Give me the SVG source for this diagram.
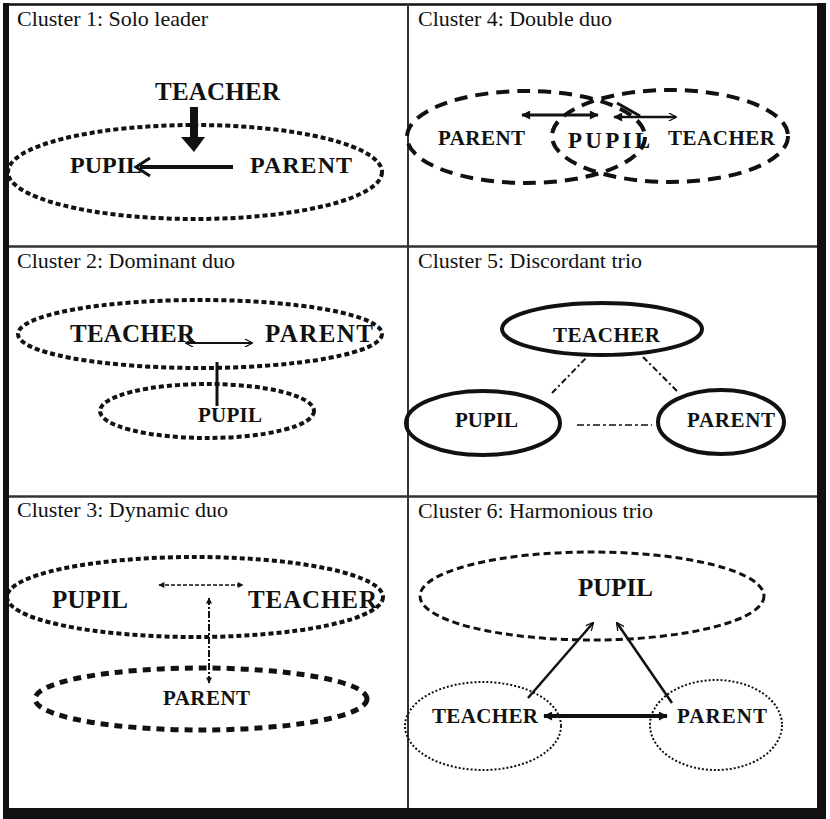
<svg xmlns="http://www.w3.org/2000/svg" width="830" height="819" viewBox="0 0 830 819">
<style>
.title{font-family:"Liberation Serif","Times New Roman",serif;font-size:22px;fill:#111}
.lbl{font-family:"Liberation Serif","Times New Roman",serif;font-weight:bold;fill:#111}
.dot{fill:none;stroke:#111;stroke-width:4;stroke-dasharray:5 3}
.dash{fill:none;stroke:#111;stroke-width:4;stroke-dasharray:13 8}
.dash3{fill:none;stroke:#111;stroke-width:5;stroke-dasharray:8 6}
.dash6{fill:none;stroke:#111;stroke-width:3;stroke-dasharray:7 4}
.fine{fill:none;stroke:#111;stroke-width:2;stroke-dasharray:2 2}
.solid{fill:none;stroke:#111;stroke-width:4}
.ln{fill:none;stroke:#111}
</style>
<defs>
<marker id="ah" viewBox="0 0 10 10" refX="9" refY="5" markerWidth="10" markerHeight="9" markerUnits="userSpaceOnUse" orient="auto-start-reverse"><path d="M0,0 L10,5 L0,10 Z" fill="#111"/></marker>
<marker id="ahs" viewBox="0 0 10 10" refX="9" refY="5" markerWidth="7" markerHeight="6" markerUnits="userSpaceOnUse" orient="auto-start-reverse"><path d="M0,0 L10,5 L0,10 Z" fill="#111"/></marker>
<marker id="aho" viewBox="0 0 10 10" refX="9" refY="5" markerWidth="9" markerHeight="8" markerUnits="userSpaceOnUse" orient="auto-start-reverse"><path d="M0,0 L10,5 L0,10" fill="none" stroke="#111" stroke-width="1.6"/></marker>
</defs>
<rect x="0" y="0" width="830" height="819" fill="#fff"/>
<g id="frame">
<line x1="3" y1="4.5" x2="826" y2="4.5" stroke="#111" stroke-width="2.5"/>
<rect x="3" y="3" width="6" height="816" fill="#111"/>
<rect x="817" y="3" width="9" height="816" fill="#111"/>
<rect x="3" y="808" width="823" height="11" fill="#111"/>
<line x1="408" y1="4" x2="408" y2="808" stroke="#333" stroke-width="2"/>
<line x1="9" y1="246.5" x2="817" y2="246.5" stroke="#333" stroke-width="2.5"/>
<line x1="9" y1="496.5" x2="817" y2="496.5" stroke="#333" stroke-width="2.5"/>
</g>
<g id="titles">
<text class="title" x="17" y="26" textLength="191">Cluster 1: Solo leader</text>
<text class="title" x="418" y="26" textLength="194">Cluster 4: Double duo</text>
<text class="title" x="17" y="268" textLength="218">Cluster 2: Dominant duo</text>
<text class="title" x="418" y="268" textLength="224">Cluster 5: Discordant trio</text>
<text class="title" x="17" y="517" textLength="211">Cluster 3: Dynamic duo</text>
<text class="title" x="418" y="518" textLength="235">Cluster 6: Harmonious trio</text>
</g>
<!-- Cluster 1 -->
<g id="c1-teacher"><text class="lbl" x="155" y="100" font-size="25" textLength="125">TEACHER</text></g>
<g id="c1-group"><ellipse class="dot" cx="195" cy="172" rx="187" ry="47"/></g>
<g id="c1-pupil"><text class="lbl" x="70" y="173" font-size="24" textLength="72">PUPIL</text></g>
<g id="c1-parent"><text class="lbl" x="250" y="173" font-size="24" textLength="102">PARENT</text></g>
<!-- Cluster 4 -->
<g id="c4-parent"><ellipse class="dash" cx="526" cy="137" rx="119" ry="46"/><text class="lbl" x="438" y="145" font-size="21" textLength="87">PARENT</text></g>
<g id="c4-teacher"><ellipse class="dash" cx="670" cy="136" rx="118" ry="46"/><text class="lbl" x="668" y="145" font-size="21" textLength="107">TEACHER</text></g>
<g id="c4-pupil"><text class="lbl" x="568" y="148" font-size="23" textLength="82">PUPIL</text></g>
<!-- Cluster 2 -->
<g id="c2-duo"><ellipse class="dot" cx="200" cy="334" rx="182" ry="34"/></g>
<g id="c2-teacher"><text class="lbl" x="70" y="342" font-size="25" textLength="125">TEACHER</text></g>
<g id="c2-parent"><text class="lbl" x="265" y="342" font-size="25" textLength="108">PARENT</text></g>
<g id="c2-pupil"><ellipse class="dot" cx="207" cy="411" rx="107" ry="27"/><text class="lbl" x="198" y="422" font-size="21" textLength="64">PUPIL</text></g>
<!-- Cluster 5 -->
<g id="c5-teacher"><ellipse class="solid" cx="602" cy="329" rx="100" ry="26"/><text class="lbl" x="553" y="342" font-size="21" textLength="107">TEACHER</text></g>
<g id="c5-pupil"><ellipse class="solid" cx="483" cy="423" rx="77" ry="32"/><text class="lbl" x="455" y="427" font-size="21" textLength="63">PUPIL</text></g>
<g id="c5-parent"><ellipse class="solid" cx="721" cy="422" rx="63" ry="32"/><text class="lbl" x="687" y="427" font-size="21" textLength="88">PARENT</text></g>
<!-- Cluster 3 -->
<g id="c3-duo"><ellipse class="dot" cx="195" cy="597" rx="188" ry="40"/></g>
<g id="c3-pupil"><text class="lbl" x="52" y="608" font-size="25" textLength="76">PUPIL</text></g>
<g id="c3-teacher"><text class="lbl" x="248" y="608" font-size="25" textLength="129">TEACHER</text></g>
<g id="c3-parent"><ellipse class="dash3" cx="201" cy="699" rx="166" ry="31"/><text class="lbl" x="163" y="705" font-size="21" textLength="87">PARENT</text></g>
<!-- Cluster 6 -->
<g id="c6-pupil"><ellipse class="dash6" cx="592" cy="596" rx="172" ry="44"/><text class="lbl" x="578" y="596" font-size="25" textLength="75">PUPIL</text></g>
<g id="c6-teacher"><ellipse class="fine" cx="483" cy="726" rx="78" ry="44"/><text class="lbl" x="432" y="723" font-size="21" textLength="106">TEACHER</text></g>
<g id="c6-parent"><ellipse class="fine" cx="716" cy="725" rx="66" ry="45"/><text class="lbl" x="677" y="723" font-size="21" textLength="90">PARENT</text></g>
<g id="connectors">
<!-- C1 -->
<rect x="190" y="107" width="8" height="32" fill="#111"/>
<path d="M181,137 L205,137 L194,152 Z" fill="#111"/>
<line class="ln" x1="233" y1="167" x2="140" y2="167" stroke-width="4"/>
<path d="M150,158 L136,167 L150,176" fill="none" stroke="#111" stroke-width="3"/>
<!-- C4 -->
<line class="ln" x1="522" y1="115" x2="598" y2="115" stroke-width="3" marker-start="url(#ah)" marker-end="url(#ah)"/>
<line class="ln" x1="614" y1="117" x2="676" y2="117" stroke-width="2.5" marker-start="url(#ah)" marker-end="url(#aho)"/>
<line class="ln" x1="617" y1="103" x2="640" y2="116" stroke-width="3"/>
<!-- C2 -->
<line class="ln" x1="186" y1="343" x2="252" y2="343" stroke-width="2" marker-start="url(#aho)" marker-end="url(#aho)"/>
<line class="ln" x1="217" y1="362" x2="217" y2="406" stroke-width="3"/>
<!-- C5 -->
<line class="ln" x1="552" y1="393" x2="587" y2="357" stroke-width="2" stroke-dasharray="6 3 2 3"/>
<line class="ln" x1="643" y1="357" x2="678" y2="392" stroke-width="2" stroke-dasharray="6 3 2 3"/>
<line class="ln" x1="577" y1="425" x2="652" y2="425" stroke-width="1.5" stroke-dasharray="7 3 3 3"/>
<!-- C3 -->
<line class="ln" x1="159" y1="585" x2="243" y2="585" stroke-width="1.5" stroke-dasharray="4 2" marker-start="url(#ahs)" marker-end="url(#ahs)"/>
<line class="ln" x1="209" y1="598" x2="209" y2="683" stroke-width="2" stroke-dasharray="7 2 2 2" marker-start="url(#ahs)" marker-end="url(#ahs)"/>
<!-- C6 -->
<line class="ln" x1="528" y1="698" x2="593" y2="623" stroke-width="2.5" marker-end="url(#aho)"/>
<line class="ln" x1="672" y1="703" x2="617" y2="623" stroke-width="2.5" marker-end="url(#aho)"/>
<line class="ln" x1="544" y1="716" x2="667" y2="716" stroke-width="4" marker-start="url(#ah)" marker-end="url(#ah)"/>
</g>
</svg>
